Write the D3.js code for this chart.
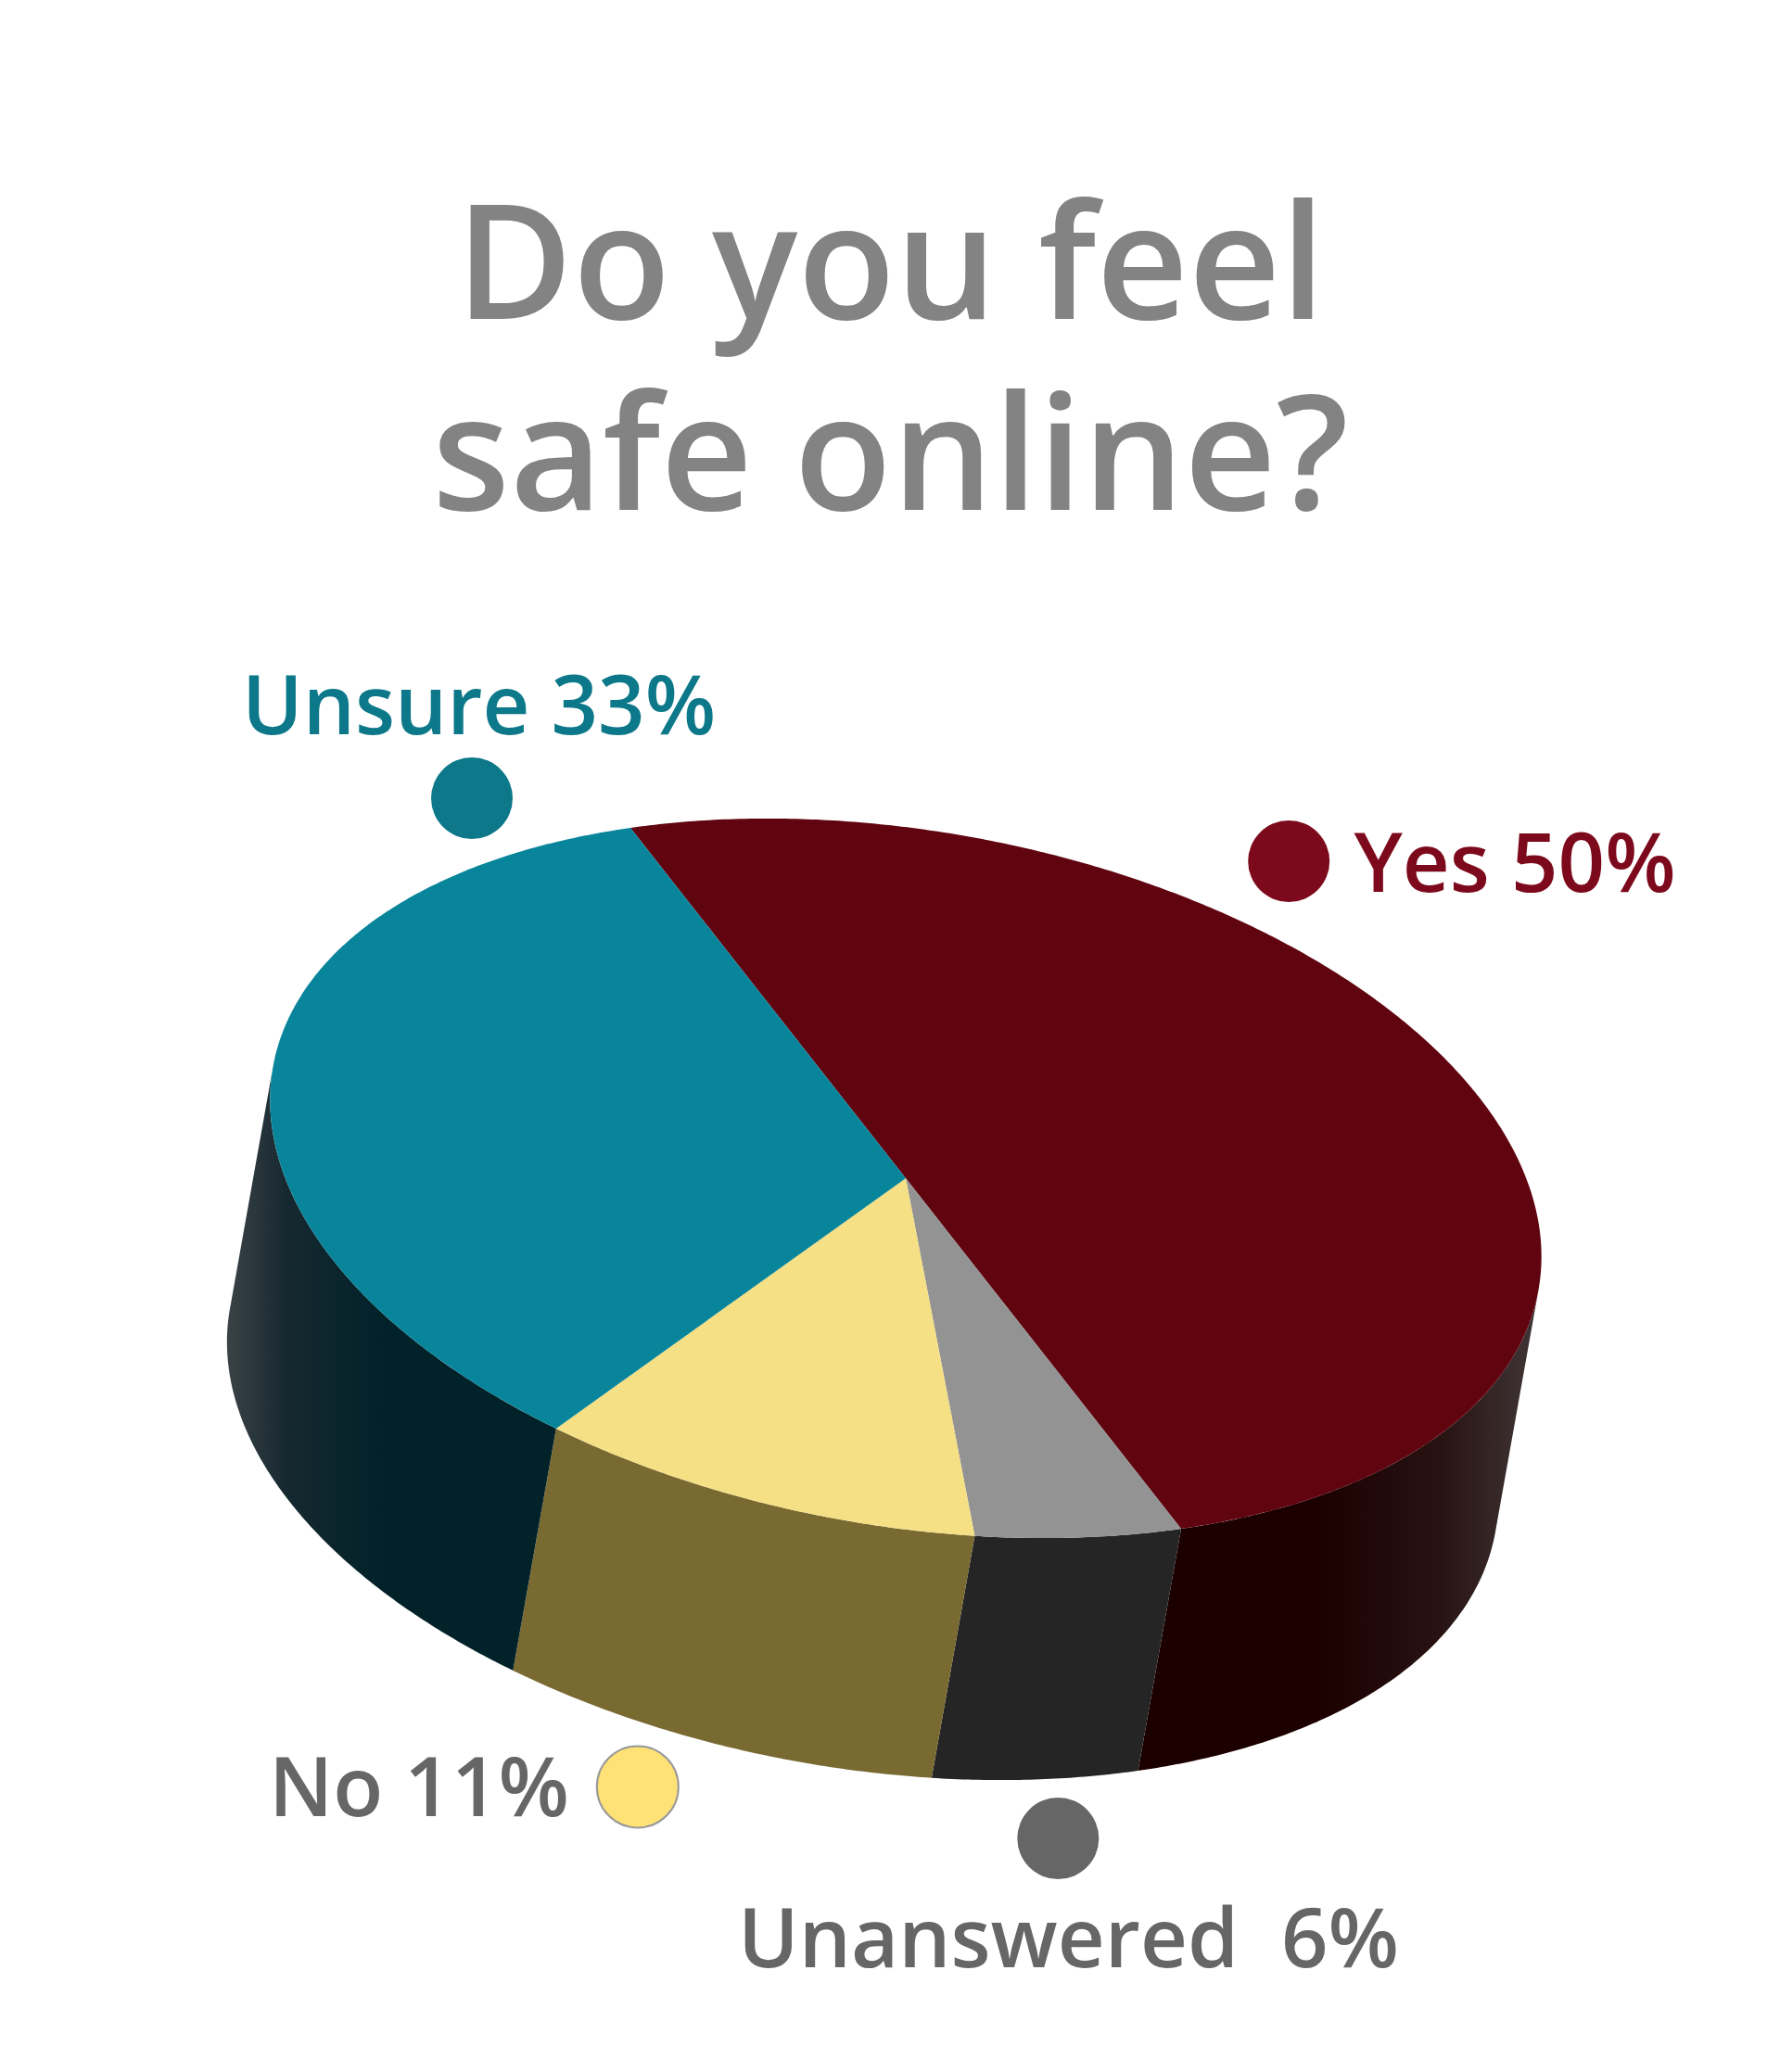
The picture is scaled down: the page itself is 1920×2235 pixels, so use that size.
<!DOCTYPE html>
<html>
<head>
<meta charset="utf-8">
<script src="https://cdn.jsdelivr.net/npm/d3@7"></script>
<style>
  html, body { margin: 0; background: #fff; }
  text { font-family: "Open Sans"; font-weight: 600; white-space: pre; }
</style>
</head>
<body>
<svg id="chart"></svg>
<script>
const width = 1920
const height = 2235

// slices in drawing order, clockwise from the top of the pie
const categories = ["Yes", "Unanswered", "No", "Unsure"]
const labels = ["Yes 50%", "Unanswered  6%", "No 11%", "Unsure 33%"]
// share of the ellipse each slice covers in the picture, the printed numbers are rounded
const shares = [50, 5.4, 11, 33.6]

const topColors = ["#600410", "#939393", "#f5e085", "#08859b"]
const sideColors = ["#1c0000", "#252525", "#796a32", "#02222a"]
const dotColors = ["#7d0a1c", "#666666", "#fee275", "#0c7889"]
const dotStrokes = ["none", "none", "#999999", "none"]
const textColors = ["#7d0a1c", "#666666", "#666666", "#0c7889"]
const titleLines = ["Do you feel", "safe online?"]

// the tilted disc: centre, two conjugate half axes, thickness
const cx = 977, cy = 1271
const ux = -297, uy = -378
const vx = 618, vy = -88
const ox = -46.5, oy = 261

const svg = d3.select("#chart")
    .attr("width", width)
    .attr("height", height)

const defs = svg.append("defs")

function edgeGradient(id, base, mid, light, x1, x2) {
    const g = defs.append("linearGradient")
        .attr("id", id)
        .attr("gradientUnits", "userSpaceOnUse")
        .attr("x1", x1).attr("x2", x2)
        .attr("y1", 0).attr("y2", 0)
    g.append("stop").attr("offset", 0).attr("stop-color", light)
    g.append("stop").attr("offset", 0.4).attr("stop-color", mid)
    g.append("stop").attr("offset", 1).attr("stop-color", base)
}
edgeGradient("sideRed", "#1c0000", "#281212", "#3c3030", 1640, 1420)
edgeGradient("sideTeal", "#02222a", "#15282f", "#3a4246", 245, 410)

const sideFill = d => {
    if (d.data == "Yes") return "url(#sideRed)"
    if (d.data == "Unsure") return "url(#sideTeal)"
    return side(d.data)
}

const top_ = d3.scaleOrdinal(categories, topColors)
const side = d3.scaleOrdinal(categories, sideColors)

const pie = d3.pie()
    .sort(null)
    .value((d, i) => shares[i])

const arcs = pie(categories)
const line = d3.line()

function project(t) {
    return [cx + Math.cos(t) * ux + Math.sin(t) * vx, cy + Math.cos(t) * uy + Math.sin(t) * vy]
}

function samples(a0, a1) {
    const n = Math.max(2, Math.ceil((a1 - a0) * 120))
    return d3.range(n + 1).map(i => a0 + (a1 - a0) * i / n)
}

// which part of the rim faces the viewer, from the thickness written in the u, v axes
const det = ux * vy - uy * vx
const oa = (ox * vy - oy * vx) / det
const ob = (ux * oy - uy * ox) / det
const faceMid = (Math.atan2(ob, oa) + 2 * Math.PI) % (2 * Math.PI)
const faceFrom = faceMid - Math.PI / 2
const faceTo = faceMid + Math.PI / 2

svg.append("g").selectAll("path")
    .data(arcs)
    .enter().append("path")
    .attr("fill", sideFill)
    .attr("d", d => {
        const a0 = Math.max(d.startAngle, faceFrom)
        const a1 = Math.min(d.endAngle, faceTo)
        if (a1 <= a0) return null
        const rim = samples(a0, a1).map(project)
        const low = rim.slice().reverse().map(p => [p[0] + ox, p[1] + oy])
        return line(rim.concat(low)) + "Z"
    })

svg.append("g").selectAll("path")
    .data(arcs)
    .enter().append("path")
    .attr("fill", d => top_(d.data))
    .attr("d", d => line([[cx, cy]].concat(samples(d.startAngle, d.endAngle).map(project))) + "Z")

// callouts
const dotX = [1390.2, 1141.3, 687.8, 509]
const dotY = [929, 1983, 1927.4, 861]
const labelX = [1460.5, 796, 290, 261]
const labelY = [962, 2122, 1958.7, 791.6]

svg.append("g").selectAll("circle")
    .data(categories)
    .enter().append("circle")
    .attr("cx", (d, i) => dotX[i])
    .attr("cy", (d, i) => dotY[i])
    .attr("r", 44)
    .attr("fill", (d, i) => dotColors[i])
    .attr("stroke", (d, i) => dotStrokes[i])
    .attr("stroke-width", 2)

svg.append("g").selectAll("text")
    .data(labels)
    .enter().append("text")
    .attr("x", (d, i) => labelX[i])
    .attr("y", (d, i) => labelY[i])
    .attr("font-size", 88.5)
    .attr("fill", (d, i) => textColors[i])
    .text(d => d)

svg.append("g").selectAll("text")
    .data(titleLines)
    .enter().append("text")
    .attr("x", 960.5)
    .attr("y", (d, i) => 343.5 + i * 206)
    .attr("text-anchor", "middle")
    .attr("font-size", 172.5)
    .attr("fill", "#838383")
    .text(d => d)
</script>
</body>
</html>
